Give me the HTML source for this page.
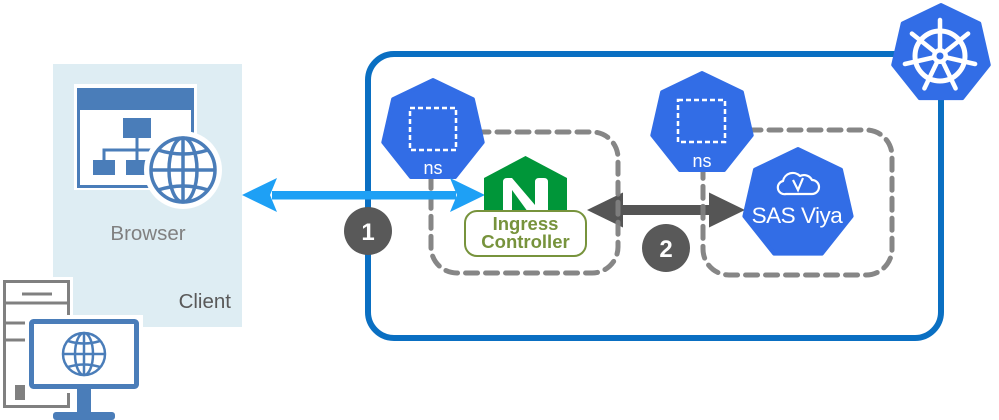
<!DOCTYPE html>
<html><head><meta charset="utf-8"><style>
html,body{margin:0;padding:0;background:#fff;}
svg{display:block;}
text{font-family:"Liberation Sans",sans-serif;}
</style></head><body>
<svg width="999" height="420" viewBox="0 0 999 420" xmlns="http://www.w3.org/2000/svg">
<!-- Client box -->
<rect x="53" y="64" width="189" height="263" fill="#deedf3"/>
<!-- Browser icon -->
<rect x="74" y="84" width="123" height="106" fill="#fff"/>
<rect x="78.5" y="89.5" width="114" height="97" fill="#fff" stroke="#4a7db9" stroke-width="3"/>
<rect x="78" y="89" width="115" height="21" fill="#4a7db9"/>
<rect x="123" y="118" width="28" height="20" fill="#4a7db9"/>
<path d="M137 138 V160 M104 160 V150 H165 V160" stroke="#4a7db9" stroke-width="3" fill="none"/>
<rect x="93" y="160" width="22" height="15" fill="#4a7db9"/>
<rect x="126" y="160" width="22" height="15" fill="#4a7db9"/>
<circle cx="183" cy="170" r="39" fill="#fff"/>
<g fill="none" stroke="#4a7db9" stroke-width="3.5">
<circle cx="183" cy="170" r="32"/>
<ellipse cx="183" cy="170" rx="14" ry="32"/>
<line x1="183" y1="138" x2="183" y2="202"/>
<line x1="151" y1="170" x2="215" y2="170"/>
<path d="M158 150 Q183 158 208 150 M158 190 Q183 182 208 190"/>
</g>
<text x="148" y="240" font-size="20.5" fill="#808080" text-anchor="middle">Browser</text>
<text x="231" y="308" font-size="20.5" fill="#595959" text-anchor="end">Client</text>

<!-- Computer icon -->
<rect x="0" y="277" width="73" height="136" fill="#fff"/>
<rect x="4.5" y="281.5" width="64" height="125" fill="#fff" stroke="#808080" stroke-width="3"/>
<line x1="4" y1="303" x2="69" y2="303" stroke="#808080" stroke-width="3"/>
<line x1="22" y1="294" x2="52" y2="294" stroke="#808080" stroke-width="3"/>
<line x1="4" y1="323" x2="28" y2="323" stroke="#808080" stroke-width="3"/>
<line x1="4" y1="340" x2="28" y2="340" stroke="#808080" stroke-width="3"/>
<rect x="15" y="385" width="10" height="15" fill="#808080"/>
<rect x="25" y="315" width="118" height="78" fill="#fff"/>
<rect x="31.5" y="321.5" width="105" height="65" rx="2" fill="#fff" stroke="#4a7db9" stroke-width="5"/>
<rect x="77" y="388" width="14" height="26" fill="#4a7db9"/>
<rect x="53" y="412" width="62" height="8" rx="3" fill="#4a7db9"/>
<g fill="none" stroke="#4a7db9" stroke-width="2.5">
<circle cx="84" cy="354" r="21"/>
<ellipse cx="84" cy="354" rx="9" ry="21"/>
<line x1="84" y1="333" x2="84" y2="375"/>
<line x1="63" y1="354" x2="105" y2="354"/>
<path d="M68 341 Q84 346 100 341 M68 367 Q84 362 100 367"/>
</g>

<!-- Big blue cluster box -->
<rect x="368" y="54" width="573" height="284" rx="26" fill="none" stroke="#0a6fc2" stroke-width="6"/>

<!-- Gray arrow (2) -->
<rect x="618" y="205" width="95" height="10" fill="#555"/>
<polygon points="587,210 623,192.5 623,227.5" fill="#555"/>
<polygon points="745,210 709,192.5 709,227.5" fill="#555"/>

<!-- dashed boxes -->
<rect x="431" y="132" width="187" height="141" rx="26" fill="none" stroke="#808080" stroke-width="5" stroke-dasharray="12 8" stroke-linecap="round" opacity="0.95"/>
<rect x="703" y="130" width="189" height="145" rx="26" fill="none" stroke="#808080" stroke-width="5" stroke-dasharray="12 8" stroke-linecap="round" opacity="0.95"/>

<!-- ns heptagon 1 -->
<polygon points="433,80 472.9,99.2 482.7,142.3 455.1,177 410.9,177 383.3,142.3 393.1,99.2" fill="#326de6" stroke="#326de6" stroke-width="4" stroke-linejoin="round"/>
<rect x="410" y="108" width="46" height="42" fill="none" stroke="#fff" stroke-width="2.5" stroke-dasharray="5 3"/>
<text x="433" y="174" font-size="18" fill="#fff" text-anchor="middle">ns</text>

<!-- ns heptagon 2 -->
<polygon points="702,73 741.9,92.2 751.7,135.3 724.1,170 679.9,170 652.3,135.3 662.1,92.2" fill="#326de6" stroke="#326de6" stroke-width="4" stroke-linejoin="round"/>
<rect x="678" y="100" width="47" height="42" fill="none" stroke="#fff" stroke-width="2.5" stroke-dasharray="5 3"/>
<text x="702" y="167" font-size="18" fill="#fff" text-anchor="middle">ns</text>

<!-- SAS Viya heptagon -->
<polygon points="798,149 841,169.7 851.6,216.2 821.9,253.6 774.1,253.6 744.4,216.2 755,169.7" fill="#326de6" stroke="#326de6" stroke-width="4" stroke-linejoin="round"/>
<path d="M786 194 H812 A7 7 0 0 0 812 180 A9 9 0 0 0 800 176 A10 10 0 0 0 783 181 A6.5 6.5 0 0 0 786 194 Z" fill="none" stroke="#fff" stroke-width="2.2" stroke-linejoin="round"/>
<path d="M793 180 L798 190 L803 178" fill="none" stroke="#fff" stroke-width="2.2"/>
<text x="797" y="223" font-size="22.5" fill="#fff" text-anchor="middle" style="letter-spacing:-0.5px">SAS Viya</text>

<!-- Kubernetes logo -->
<polygon points="941,5 979.3,23.4 988.8,64.9 962.3,98.1 919.7,98.1 893.2,64.9 902.7,23.4" fill="#326de6" stroke="#326de6" stroke-width="4" stroke-linejoin="round"/>
<g stroke="#fff" stroke-linecap="round" fill="none">
<circle cx="940" cy="56" r="25" stroke-width="5"/>
<g stroke-width="4.5">
<line x1="940" y1="56" x2="940" y2="20"/>
<line x1="940" y1="56" x2="968.1" y2="33.6"/>
<line x1="940" y1="56" x2="975.1" y2="64"/>
<line x1="940" y1="56" x2="955.6" y2="88.4"/>
<line x1="940" y1="56" x2="924.4" y2="88.4"/>
<line x1="940" y1="56" x2="904.9" y2="64"/>
<line x1="940" y1="56" x2="911.9" y2="33.6"/>
</g>
</g>
<circle cx="940" cy="56" r="8" fill="#fff"/>
<circle cx="940" cy="56" r="3.5" fill="#326de6"/>

<!-- Blue arrow (1) -->
<rect x="272" y="191" width="184" height="8.5" fill="#1ea0f5"/>
<polygon points="242,195 277,178 270,195 277,212" fill="#1ea0f5"/>
<polygon points="485,195 450,178 457,195 450,212" fill="#1ea0f5"/>

<!-- NGINX -->
<polygon points="484,178 525.5,156 567,178 567,214 484,214" fill="#009639"/>
<path d="M503 212 V182 Q503 178 507 178 H512 L535 205 V182 Q535 178 539 178 H544 Q548 178 548 182 V212 Z" fill="#fff"/>
<polygon points="512,190 528,212 512,212" fill="#009639"/>
<rect x="465" y="211" width="121" height="45" rx="12" fill="#fff" stroke="#77933c" stroke-width="2"/>
<text x="525.5" y="230" font-size="18.5" font-weight="bold" fill="#77933c" text-anchor="middle">Ingress</text>
<text x="525.5" y="248" font-size="18.5" font-weight="bold" fill="#77933c" text-anchor="middle">Controller</text>

<!-- Number circles -->
<circle cx="368" cy="231" r="24" fill="#595959"/>
<text x="368" y="240" font-size="24" font-weight="bold" fill="#fff" text-anchor="middle">1</text>
<circle cx="666" cy="248" r="24" fill="#595959"/>
<text x="666" y="257" font-size="24" font-weight="bold" fill="#fff" text-anchor="middle">2</text>
</svg>
</body></html>
